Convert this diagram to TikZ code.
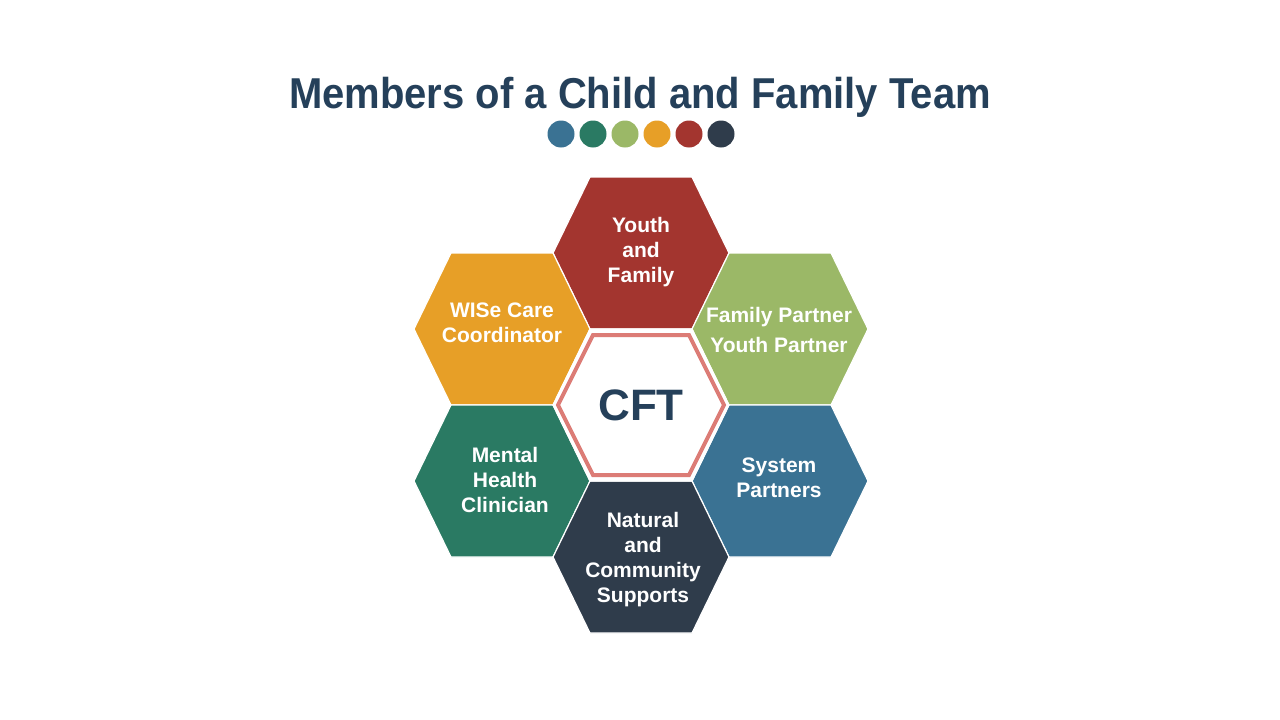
\documentclass[tikz,border=0pt]{standalone}
\usepackage{fontspec}
\setmainfont{Liberation Sans}
\usepackage{tikz}
\usetikzlibrary{positioning}
\definecolor{cftBlue}{HTML}{3A7293}
\definecolor{cftTeal}{HTML}{2A7A63}
\definecolor{cftLime}{HTML}{9BB867}
\definecolor{cftOrange}{HTML}{E79F27}
\definecolor{cftRed}{HTML}{A3352F}
\definecolor{cftNavy}{HTML}{2F3C4B}
\definecolor{cftTitle}{HTML}{25405A}
\definecolor{cftRim}{HTML}{DC7C76}

\begin{document}
\begin{tikzpicture}[x=1pt,y=-1pt,
 hex/.style={fill=#1,draw=white,line width=1.2pt},
 lbl/.style={text=white,font=\fontsize{21}{25}\selectfont\bfseries,align=center},
 dot/.style={circle,fill=#1,minimum size=27pt,inner sep=0pt}]
\useasboundingbox[fill=white] (0,0) rectangle (1280,720);
\node[anchor=base,text=cftTitle,font=\fontsize{40}{48}\selectfont\bfseries] (title) at (640,108) {\scalebox{1}[1.08]{Members of a Child and Family Team}};
% colour dots
\foreach \c [count=\i] in {cftBlue,cftTeal,cftLime,cftOrange,cftRed,cftNavy}
  \node[dot=\c] (dot\i) at (529+32*\i,134) {};
% honeycomb
\foreach \cx/\cy/\c in {641/253/cftRed,502/329/cftOrange,780/329/cftLime,
  502/481/cftTeal,780/481/cftBlue,641/557/cftNavy,641/405/white}
  \path[hex=\c,shift={(\cx,\cy)}] (-51,-76) -- (51,-76) -- (88,0) -- (51,76) -- (-51,76) -- (-88,0) -- cycle;
\draw[cftRim,line width=4pt,line join=miter,shift={(641,405)}] (-48,-70) -- (48,-70) -- (83,0) -- (48,70) -- (-48,70) -- (-83,0) -- cycle;
\node[text=cftTitle,font=\fontsize{44}{50}\selectfont\bfseries] (cft) at (641,405) {CFT};
\node[lbl] (youth) at (641,252) {Youth\\and\\Family};
\node[lbl] (wise) at (502,323) {WISe Care\\Coordinator};
\node[lbl] (partner) at (779,330) {Family Partner\\[5pt]Youth Partner};
\node[lbl] (clinic) at (505,480) {Mental\\Health\\Clinician};
\node[lbl] (system) at (779,478) {System\\Partners};
\node[lbl] (natural) at (643,560) {Natural\\and\\Community\\Supports};
\end{tikzpicture}
\end{document}
